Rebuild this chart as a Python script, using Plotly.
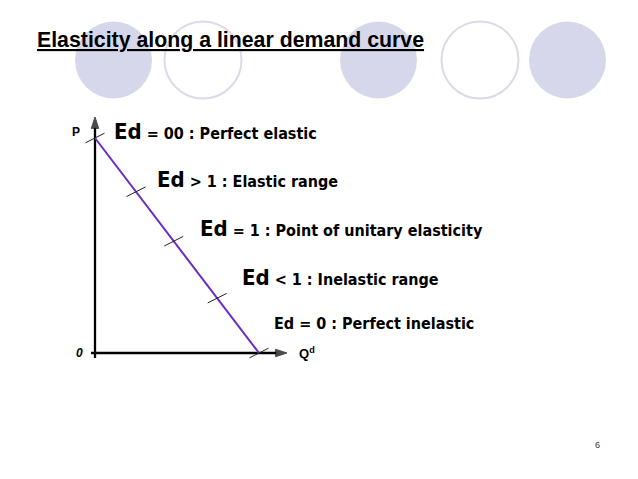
import plotly.graph_objects as go

W, H = 638, 479

# ---- data ----
demand_q = [0, 10]          # quantity intercepts of linear demand
demand_p = [10, 0]          # price intercepts
tick_fracs = [0.0, 0.25, 0.48, 0.745, 1.0]   # positions of marks along the curve
label_ed = ["Ed", "Ed", "Ed", "Ed", "Ed"]
label_rest = [" = 00 : Perfect elastic", " > 1 : Elastic range",
              " = 1 : Point of unitary elasticity", " < 1 : Inelastic range",
              " = 0 : Perfect inelastic"]
title_text = "Elasticity along a linear demand curve"
slide_no = "6"

# ---- layout / styling ----
ORX, ORY = 95, 353          # pixel of origin
QS, PS = 16.4, 21.5         # px per unit
xr = [(0 - ORX) / QS, (W - ORX) / QS]
yr = [(ORY - H) / PS, ORY / PS]

def px_to_data(px, py):
    return (px - ORX) / QS, (ORY - py) / PS

label_pos_px = [(112, 131), (155, 179), (198, 228), (240, 277), (272, 323)]
ed_sizes = [22, 22, 22, 22, 16]
FONT = "Liberation Sans Narrow, DejaVu Sans Condensed, Arial Narrow, Liberation Sans, sans-serif"

circles = [(113.5, 60, True), (203, 60, False), (378.5, 60, True),
           (480, 60, False), (567.5, 60, True)]
R = 38.5

fig = go.Figure()

# axes with arrowheads
for (p0, p1) in [((95, 358), (95, 117)), ((91, 353), (287, 353))]:
    a = px_to_data(*p0)
    b = px_to_data(*p1)
    fig.add_trace(go.Scatter(x=[a[0], b[0]], y=[a[1], b[1]], mode="lines+markers",
                             line=dict(color="black", width=2.3),
                             marker=dict(symbol="arrow", size=[0, 12], angleref="previous",
                                         color="black", line=dict(width=1, color="black")),
                             hoverinfo="skip"))

# demand curve
fig.add_trace(go.Scatter(x=demand_q, y=demand_p, mode="lines",
                         line=dict(color="#6a2bc4", width=2), hoverinfo="skip"))

# tick marks across the curve
tx, ty = [], []
hx, hy = 9.5 / QS, 4.8 / PS
for f in tick_fracs:
    q = demand_q[0] + f * (demand_q[1] - demand_q[0])
    p = demand_p[0] + f * (demand_p[1] - demand_p[0])
    tx += [q - hx, q + hx, None]
    ty += [p - hy, p + hy, None]
fig.add_trace(go.Scatter(x=tx, y=ty, mode="lines",
                         line=dict(color="#222222", width=1), hoverinfo="skip"))

ann = []
# axis labels
for txt, (px, py), anchor, sz in [("<b>P</b>", (76, 132), "center", 12),
                                  ("<b><i>0</i></b>", (79, 353), "center", 12),
                                  ("<b>Q<sup>d</sup></b>", (297, 353), "left", 13)]:
    x, y = px_to_data(px, py)
    ann.append(dict(x=x, y=y, xref="x", yref="y", text=txt, showarrow=False,
                    xanchor=anchor, yanchor="middle",
                    font=dict(family="Liberation Sans, Arial, sans-serif", size=sz, color="black")))

# elasticity labels
for ed, rest, (px, py), es in zip(label_ed, label_rest, label_pos_px, ed_sizes):
    x, y = px_to_data(px, py)
    ann.append(dict(x=x, y=y, xref="x", yref="y",
                    text=f"<b><span style='font-size:{es}px'>{ed}</span>{rest}</b>",
                    showarrow=False, xanchor="left", yanchor="middle",
                    font=dict(family=FONT, size=16, color="black")))

# title
ann.append(dict(x=35 / W, y=1 - 40 / H, xref="paper", yref="paper",
                text=f"<b><u>{title_text}</u></b>", showarrow=False,
                xanchor="left", yanchor="middle",
                font=dict(family="Liberation Sans, Arial, sans-serif", size=21.3, color="black")))
# slide number
ann.append(dict(x=597 / W, y=1 - 445 / H, xref="paper", yref="paper",
                text=slide_no, showarrow=False, xanchor="center", yanchor="middle",
                font=dict(family="Liberation Sans, Arial, sans-serif", size=9, color="#333333")))

shapes = []
for cx, cy, filled in circles:
    shapes.append(dict(type="circle", xref="paper", yref="paper", layer="below",
                       x0=(cx - R) / W, x1=(cx + R) / W,
                       y0=1 - (cy + R) / H, y1=1 - (cy - R) / H,
                       fillcolor="#d7d7eb" if filled else "white",
                       line=dict(color="#d7d7eb" if filled else "#dadaea", width=0 if filled else 2)))

fig.update_layout(width=W, height=H, margin=dict(l=0, r=0, t=0, b=0),
                  paper_bgcolor="white", plot_bgcolor="rgba(0,0,0,0)",
                  showlegend=False, annotations=ann, shapes=shapes,
                  xaxis=dict(range=xr, visible=False, fixedrange=True),
                  yaxis=dict(range=yr, visible=False, fixedrange=True))

fig.write_html("out.html", config={"displayModeBar": False},
               post_script="document.body.style.margin='0';")
